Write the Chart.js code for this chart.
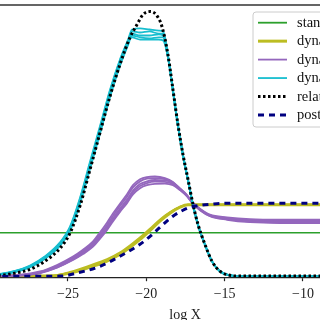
<!DOCTYPE html>
<html>
<head>
<meta charset="utf-8">
<script src="https://cdn.jsdelivr.net/npm/chart.js@4/dist/chart.umd.min.js"></script>
<style>
html,body{margin:0;padding:0;background:#fff;overflow:hidden;width:320px;height:320px;}
#wrap{position:absolute;left:-40px;top:0;width:450px;height:320px;}
</style>
</head>
<body>
<div id="wrap"><canvas id="c"></canvas></div>
<script>
// ---- data ----
const logXTicks = [-30, -25, -20, -15, -10];
const legendLabels = ['standard', 'dynamic G = 0', 'dynamic G = 0.25', 'dynamic G = 1', 'relative posterior mass', 'posterior mass remaining'];

const standardX = [-32, -3];
const standardY = [0.163, 0.163];

const yellowX = [-32, -29.34, -26.15, -24.87, -23.59, -22.51, -21.68, -21.04, -20.40, -19.76, -19.13, -18.49, -17.85, -17.34, -16.89, -3];
const yellowRun1 = [0.003, 0.004, 0.004, 0.015, 0.037, 0.059, 0.084, 0.110, 0.139, 0.172, 0.206, 0.235, 0.257, 0.266, 0.266, 0.266];
const yellowRun2 = [0.003, 0.004, 0.006, 0.020, 0.044, 0.067, 0.092, 0.118, 0.147, 0.180, 0.213, 0.240, 0.260, 0.267, 0.267, 0.267];
const yellowRun3 = [0.003, 0.004, 0.005, 0.017, 0.040, 0.062, 0.087, 0.113, 0.142, 0.175, 0.209, 0.238, 0.258, 0.265, 0.265, 0.265];

const purpleX = [-32, -29.34, -28.06, -26.78, -25.70, -24.68, -24.04, -23.40, -22.95, -22.51, -22.13, -21.68, -21.23, -20.85, -20.40, -19.96, -19.45, -18.81, -18.30, -17.85, -17.40, -17.02, -16.57, -15.94, -14.85, -13.38, -11.47, -3];
const purpleRun1 = [0.003, 0.005, 0.009, 0.021, 0.045, 0.076, 0.101, 0.132, 0.165, 0.200, 0.234, 0.270, 0.305, 0.338, 0.360, 0.368, 0.370, 0.364, 0.350, 0.326, 0.302, 0.274, 0.252, 0.230, 0.220, 0.213, 0.211, 0.211];
const purpleRun2 = [0.003, 0.004, 0.008, 0.019, 0.042, 0.072, 0.096, 0.126, 0.158, 0.191, 0.225, 0.262, 0.296, 0.330, 0.352, 0.362, 0.364, 0.360, 0.348, 0.325, 0.300, 0.272, 0.250, 0.228, 0.217, 0.210, 0.207, 0.207];
const purpleRun3 = [0.003, 0.004, 0.007, 0.017, 0.038, 0.068, 0.092, 0.121, 0.152, 0.183, 0.216, 0.252, 0.285, 0.318, 0.342, 0.352, 0.357, 0.356, 0.346, 0.324, 0.300, 0.271, 0.249, 0.227, 0.215, 0.207, 0.204, 0.204];
const purpleRun4 = [0.003, 0.004, 0.006, 0.016, 0.036, 0.065, 0.088, 0.116, 0.147, 0.178, 0.211, 0.246, 0.279, 0.311, 0.335, 0.346, 0.351, 0.350, 0.342, 0.321, 0.298, 0.270, 0.247, 0.225, 0.213, 0.204, 0.201, 0.201];
const purpleRun5 = [0.003, 0.004, 0.006, 0.015, 0.035, 0.063, 0.085, 0.112, 0.142, 0.173, 0.205, 0.240, 0.272, 0.304, 0.327, 0.338, 0.343, 0.344, 0.338, 0.320, 0.297, 0.269, 0.246, 0.224, 0.211, 0.202, 0.199, 0.199];

const cyanX = [-32, -29.34, -28.38, -27.42, -26.46, -25.51, -24.87, -24.23, -23.59, -22.95, -22.32, -21.68, -21.17, -20.91, -20.40, -19.80, -19.20, -18.93, -18.62, -18.30, -17.98, -17.66, -17.34, -17.02, -16.70, -16.26, -15.81, -15.30, -14.66, -14.02, -3];
const cyanRun1 = [0.006, 0.012, 0.023, 0.043, 0.077, 0.128, 0.186, 0.292, 0.425, 0.556, 0.688, 0.800, 0.872, 0.910, 0.914, 0.910, 0.906, 0.903, 0.818, 0.690, 0.561, 0.451, 0.360, 0.268, 0.194, 0.121, 0.059, 0.022, 0.007, 0.005, 0.005];
const cyanRun2 = [0.006, 0.011, 0.021, 0.040, 0.073, 0.122, 0.179, 0.283, 0.414, 0.545, 0.678, 0.792, 0.864, 0.903, 0.899, 0.903, 0.895, 0.895, 0.815, 0.688, 0.560, 0.450, 0.358, 0.266, 0.192, 0.120, 0.058, 0.021, 0.007, 0.005, 0.005];
const cyanRun3 = [0.005, 0.010, 0.020, 0.038, 0.070, 0.118, 0.174, 0.276, 0.405, 0.536, 0.668, 0.783, 0.857, 0.895, 0.888, 0.888, 0.892, 0.888, 0.812, 0.685, 0.557, 0.448, 0.357, 0.266, 0.193, 0.121, 0.059, 0.022, 0.007, 0.005, 0.005];
const cyanRun4 = [0.005, 0.010, 0.019, 0.037, 0.068, 0.115, 0.170, 0.270, 0.398, 0.528, 0.660, 0.776, 0.852, 0.888, 0.881, 0.877, 0.881, 0.881, 0.810, 0.684, 0.556, 0.447, 0.356, 0.265, 0.192, 0.120, 0.058, 0.022, 0.007, 0.005, 0.005];
const cyanRun5 = [0.006, 0.011, 0.022, 0.041, 0.075, 0.125, 0.182, 0.287, 0.418, 0.550, 0.683, 0.796, 0.866, 0.881, 0.873, 0.873, 0.873, 0.870, 0.808, 0.683, 0.555, 0.446, 0.355, 0.264, 0.191, 0.119, 0.058, 0.021, 0.007, 0.005, 0.005];

const relX = [-32, -29.34, -28.38, -27.42, -26.46, -25.51, -24.87, -24.23, -23.59, -22.95, -22.32, -21.68, -21.04, -20.59, -20.21, -19.76, -19.38, -19.00, -18.62, -18.30, -17.98, -17.66, -17.34, -17.02, -16.70, -16.26, -15.81, -15.30, -14.66, -14.02, -3];
const relY = [0.003, 0.007, 0.015, 0.029, 0.059, 0.106, 0.162, 0.262, 0.396, 0.532, 0.664, 0.782, 0.881, 0.928, 0.965, 0.976, 0.965, 0.921, 0.818, 0.690, 0.561, 0.451, 0.360, 0.268, 0.194, 0.121, 0.059, 0.022, 0.007, 0.004, 0.004];

const postX = [-32, -29.34, -25.51, -24.23, -22.95, -21.68, -20.40, -19.76, -19.13, -18.30, -17.66, -17.21, -16.57, -15.94, -14.98, -3];
const postY = [0.003, 0.003, 0.004, 0.018, 0.040, 0.077, 0.121, 0.150, 0.183, 0.224, 0.246, 0.257, 0.264, 0.268, 0.272, 0.272];

// ---- styles ----
const GREEN = '#2ca02c', OLIVE = '#bcbd22', PURPLE = '#9467bd', CYAN = '#17becf', NAVY = '#000080';
const serif = '"Liberation Serif", "DejaVu Serif", serif';

function pts(xs, ys) { return xs.map((x, i) => ({x: x, y: ys[i]})); }
function line(xs, ys, color, width, order, extra) {
  return Object.assign({
    data: pts(xs, ys), borderColor: color, borderWidth: width, pointRadius: 0,
    fill: false, cubicInterpolationMode: 'monotone', order: order
  }, extra || {});
}

const datasets = [
  line(standardX, standardY, GREEN, 1.5, 9, {legendIndex: 0, cubicInterpolationMode: 'default'}),
  line(yellowX, yellowRun1, OLIVE, 3, 8, {legendIndex: 1}),
  line(yellowX, yellowRun2, OLIVE, 1.5, 8),
  line(yellowX, yellowRun3, OLIVE, 1.5, 8),
  line(purpleX, purpleRun1, PURPLE, 1.8, 7, {legendIndex: 2}),
  line(purpleX, purpleRun2, PURPLE, 1.8, 7),
  line(purpleX, purpleRun3, PURPLE, 1.8, 7),
  line(purpleX, purpleRun4, PURPLE, 1.8, 7),
  line(purpleX, purpleRun5, PURPLE, 1.8, 7),
  line(cyanX, cyanRun1, CYAN, 1.8, 6, {legendIndex: 3}),
  line(cyanX, cyanRun2, CYAN, 1.8, 6),
  line(cyanX, cyanRun3, CYAN, 1.8, 6),
  line(cyanX, cyanRun4, CYAN, 1.8, 6),
  line(cyanX, cyanRun5, CYAN, 1.8, 6),
  line(relX, relY, '#000000', 3, 2, {legendIndex: 4, borderDash: [2.5, 2.5], borderCapStyle: 'butt'}),
  line(postX, postY, NAVY, 3, 1, {legendIndex: 5, borderDash: [6, 5], borderCapStyle: 'butt'})
];

const framePlugin = {
  id: 'frame',
  afterDatasetsDraw(chart) {
    const ctx = chart.ctx, a = chart.chartArea;
    ctx.save();
    ctx.strokeStyle = '#333';
    ctx.lineWidth = 1.4;
    ctx.beginPath();
    ctx.moveTo(a.left, a.top); ctx.lineTo(a.right, a.top); ctx.lineTo(a.right, a.bottom);
    ctx.stroke();
    ctx.restore();
  }
};

const legendPlugin = {
  id: 'mplLegend',
  afterDraw(chart) {
    const ctx = chart.ctx;
    const bx = 293, by = 12, bw = 200, bh = 115, r = 3;
    ctx.save();
    ctx.beginPath();
    ctx.moveTo(bx + r, by); ctx.lineTo(bx + bw - r, by); ctx.arcTo(bx + bw, by, bx + bw, by + r, r);
    ctx.lineTo(bx + bw, by + bh - r); ctx.arcTo(bx + bw, by + bh, bx + bw - r, by + bh, r);
    ctx.lineTo(bx + r, by + bh); ctx.arcTo(bx, by + bh, bx, by + bh - r, r);
    ctx.lineTo(bx, by + r); ctx.arcTo(bx, by, bx + r, by, r);
    ctx.closePath();
    ctx.fillStyle = 'rgba(255,255,255,0.85)';
    ctx.fill();
    ctx.strokeStyle = '#cccccc';
    ctx.lineWidth = 1;
    ctx.stroke();
    chart.data.datasets.forEach(ds => {
      if (ds.legendIndex === undefined) return;
      const i = ds.legendIndex;
      const y = 22.7 + i * 18.45;
      ctx.beginPath();
      ctx.setLineDash(ds.borderDash || []);
      ctx.lineCap = 'butt';
      ctx.strokeStyle = ds.borderColor;
      ctx.lineWidth = Math.max(ds.borderWidth, 1.8);
      ctx.moveTo(298, y); ctx.lineTo(327, y);
      ctx.stroke();
      ctx.setLineDash([]);
      ctx.fillStyle = '#111';
      ctx.font = '14.5px ' + serif;
      ctx.textBaseline = 'middle';
      ctx.textAlign = 'left';
      ctx.fillText(legendLabels[i], 337, y + 0.5);
    });
    ctx.restore();
  }
};

new Chart(document.getElementById('c'), {
  type: 'line',
  data: { datasets: datasets },
  options: {
    responsive: true,
    maintainAspectRatio: false,
    animation: false,
    layout: { padding: { top: 5, left: 0, right: 0, bottom: -4 } },
    plugins: { legend: { display: false }, tooltip: { enabled: false } },
    scales: {
      x: {
        type: 'linear',
        min: -31.89,
        max: -3.17,
        afterBuildTicks: s => { s.ticks = logXTicks.map(v => ({value: v})); },
        border: { display: true, color: '#222', width: 1.2 },
        grid: { display: true, drawOnChartArea: false, drawTicks: true, tickLength: 4, color: '#222', tickWidth: 1.2 },
        ticks: {
          color: '#222', padding: 6, maxRotation: 0,
          font: { family: serif, size: 14, lineHeight: 1.0 },
          callback: v => (v < 0 ? '\u2212' : '') + Math.abs(v)
        },
        title: {
          display: true, text: 'log X', color: '#222',
          font: { family: serif, size: 14 },
          padding: { top: 0, bottom: 0 }
        }
      },
      y: { display: false, min: 0, max: 1 }
    }
  },
  plugins: [framePlugin, legendPlugin]
});
</script>
</body>
</html>
